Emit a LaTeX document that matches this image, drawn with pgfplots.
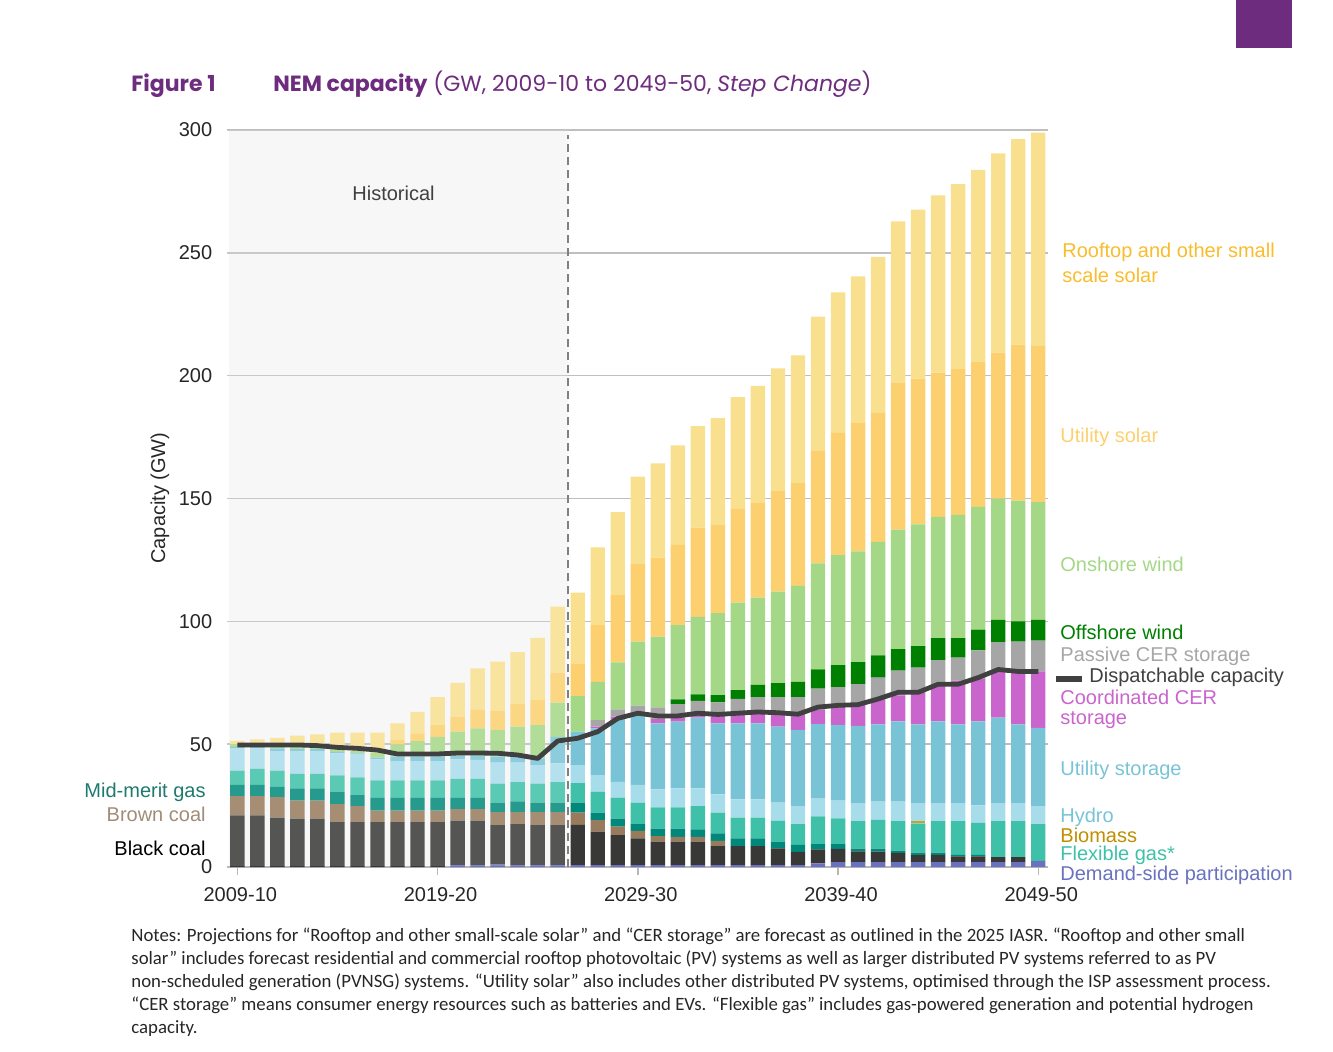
\documentclass[border=0pt]{standalone}
\usepackage{pgfplots}
\pgfplotsset{compat=1.18}
\usepackage{pgfplotstable}
\usepackage{fontspec}
\setmainfont{Liberation Sans}
\newfontfamily\titlefont{Poppins}
\newfontfamily\notefont{Carlito}

\definecolor{cDSP}{HTML}{6A72C0}
\definecolor{cBC}{HTML}{383836}
\definecolor{cBrC}{HTML}{977B5C}
\definecolor{cMM}{HTML}{00897A}
\definecolor{cFG}{HTML}{3FC1A9}
\definecolor{cBio}{HTML}{C9A227}
\definecolor{cHyd}{HTML}{A7DCEA}
\definecolor{cUS}{HTML}{78C4D6}
\definecolor{cCCER}{HTML}{C965CC}
\definecolor{cPCER}{HTML}{A6A6A6}
\definecolor{cOff}{HTML}{008000}
\definecolor{cOn}{HTML}{A4D886}
\definecolor{cUSol}{HTML}{FCD06E}
\definecolor{cRoof}{HTML}{F8E08F}
\definecolor{cLine}{HTML}{404040}
\definecolor{cPurple}{HTML}{6E2C7E}
\definecolor{histbg}{HTML}{F6F6F6}
\definecolor{cText}{HTML}{404040}
\definecolor{tRoof}{HTML}{F9BC2C}
\definecolor{tBio}{HTML}{BF8F00}
\definecolor{tMM}{HTML}{1E7A6E}
\definecolor{tBrC}{HTML}{A08C78}

\pgfplotstableread{
x dsp bc brc mm fg bio hyd us ccer pcer off on usol roof disp
0 0 21.0 7.9 4.5 5.8 0 9.1 0.5 0 0 0 1.2 0 1.3 49.7
1 0 21.0 7.9 4.5 6.5 0 8.4 0.5 0 0 0 1.5 0 1.7 49.7
2 0 20.1 8.3 4.2 6.6 0 8.0 1.1 0 0 0 1.9 0 2.4 49.7
3 0 19.7 7.3 5.0 5.9 0 9.3 0.8 0 0 0 2.0 0 3.5 49.7
4 0 19.7 7.3 5.0 5.9 0 9.3 0.8 0 0 0 1.8 0 4.2 49.4
5 0 18.3 7.3 5.1 6.6 0 9.0 0.6 0 0 0 1.6 0 6.2 48.7
6 0 18.3 6.5 4.5 7.2 0 9.4 0.4 0 0 0 0.9 0 7.5 48.3
7 0 18.3 4.6 5.2 7.2 0 8.5 0.7 0 0 0 2.0 0 8.2 47.6
8 0 18.3 4.6 5.2 7.2 0 7.8 1.8 0 0 0 5.0 1.8 6.8 46.0
9 0 18.3 4.6 5.2 7.2 0 7.8 1.8 0 0 0 6.3 3.2 8.7 46.0
10 0 18.3 4.6 5.2 7.2 0 7.8 1.8 0 0 0 8.1 4.8 11.3 46.0
11 0.8 18.1 4.7 4.5 7.8 0 7.9 1.4 0 0 0 9.9 6.1 13.8 46.4
12 0.8 18.1 4.7 4.5 7.8 0 7.7 1.6 0 0 0 11.2 7.8 16.7 46.4
13 1.0 16.0 5.3 3.9 7.7 0 8.6 2.4 0 0 0 10.9 7.8 20.0 46.3
14 0.8 16.7 4.8 4.4 7.9 0 7.9 2.4 0 0 0 12.2 9.2 21.2 45.6
15 0.8 16.2 5.3 3.9 7.7 0 7.6 2.7 0 0 0 13.6 10.2 25.3 44.2
16 0.8 16.2 5.3 3.9 8.4 0 7.6 10.8 0 0 0 13.9 12.2 26.9 51.3
17 0.8 16.3 5.0 4.1 7.9 0 7.4 13.6 0 0 0 14.5 13.3 28.8 52.4
18 0.8 13.6 4.7 3.0 8.6 0 6.7 19.0 0.7 2.7 0 15.6 23.1 31.6 55.1
19 0.8 12.2 3.4 3.3 8.5 0 6.5 25.5 1.0 3.0 0 19.1 27.4 33.8 60.5
20 0.8 10.9 3.0 2.8 8.7 0 7.2 28.6 0.6 3.1 0 26.0 31.6 35.6 62.6
21 0.8 9.5 2.3 3.0 8.7 0 7.3 26.9 1.7 4.8 0 28.8 32.1 38.4 61.5
22 0.8 9.5 2.0 3.3 8.7 0 7.7 27.2 1.7 5.4 1.9 30.3 32.6 40.5 61.5
23 0.8 9.5 2.0 3.0 9.5 0 7.2 28.8 1.1 5.7 2.7 31.5 36.3 41.4 62.6
24 0.8 7.7 2.1 3.1 8.4 0 7.5 28.9 3.0 5.5 3.0 33.3 35.9 43.5 62.1
25 0.8 7.7 0 3.2 8.4 0 7.4 31.0 3.4 6.5 3.6 35.6 38.4 45.3 62.6
26 0.8 7.7 0 3.2 8.4 0 7.4 31.0 3.8 6.8 5.0 35.5 38.8 47.4 63.1
27 0.8 6.8 0 2.7 8.6 0 7.3 30.9 4.8 7.2 5.7 37.3 40.9 50.0 62.8
28 0.8 5.4 0 2.8 8.5 0 7.3 31.0 6.1 7.2 6.3 39.0 41.9 52.0 62.2
29 1.5 5.7 0 2.1 11.3 0 7.2 30.4 5.7 8.7 7.8 43.2 46.0 54.4 65.1
30 2.0 5.4 0 1.9 10.5 0 7.2 30.9 7.5 7.8 9.0 44.8 49.7 57.2 65.8
31 2.0 4.4 0 1.1 11.2 0 7.3 31.4 9.0 8.0 9.0 45.1 52.2 59.7 66.1
32 2.0 4.3 0 1.2 11.7 0 7.4 31.5 9.8 9.2 9.0 46.2 52.6 63.5 68.4
33 2.0 3.7 0 1.0 12.0 0 7.9 32.7 10.6 10.0 8.8 48.6 60.0 65.5 71.1
34 2.0 2.8 0 1.1 11.9 0.9 7.3 32.1 12.8 10.3 8.7 49.6 59.3 68.8 71.1
35 2.0 2.9 0 1.0 12.8 0 7.3 33.3 15.1 9.8 9.0 49.3 58.7 72.2 74.4
36 2.0 2.3 0 0.6 13.8 0 7.3 32.1 17.8 9.3 8.0 50.1 59.4 75.3 74.4
37 2.0 2.3 0 0.6 13.1 0 7.1 34.2 17.3 11.6 8.4 50.0 58.9 78.3 77.1
38 2.0 2.0 0 0 14.7 0 7.3 34.8 19.6 11.1 9.1 49.3 59.5 81.1 80.4
39 2.0 2.0 0 0 14.7 0 7.3 32.1 21.5 12.1 8.3 49.1 63.5 83.7 79.6
40 2.5 0 0 0 15.0 0 7.3 31.8 23.0 12.5 8.5 47.9 63.8 86.6 79.6
}\data

\pgfplotsset{
  common/.style={
    at={(113.65pt,92pt)}, anchor=south west,
    scale only axis, width=410.5pt, height=368.5pt,
    xmin=-0.5, xmax=40.5, ymin=0, ymax=300,
  }
}

\begin{document}
\begin{tikzpicture}[x=0.5pt,y=0.5pt]
\path[use as bounding box] (0,0) rectangle (1333,1051);
\fill[cPurple] (1236,1003) rectangle (1292,1051);
\fill[histbg] (229,184) rectangle (567.7,921);

% title
\node[anchor=base west, inner sep=0, text=cPurple, font=\titlefont\fontsize{11}{13}\selectfont\bfseries] at (131,959) {Figure 1};
\node[anchor=base west, inner sep=0, text=cPurple, font=\titlefont\fontsize{11}{13}\selectfont] at (273,959) {\textbf{NEM capacity} (GW, 2009-10 to 2049-50, \textit{Step Change})};

\begin{axis}[common,
  ybar stacked, bar width=0.72,
  axis lines=left,
  x axis line style={-, draw=black!28, line width=0.7pt},
  y axis line style={draw=none},
  xtick={0,10,20,30,40},
  xticklabels={2009-10,2019-20,2029-30,2039-40,2049-50},
  ytick={0,50,...,300},
  tick align=outside, major tick length=4pt,
  xtick style={draw=black!28, line width=0.7pt},
  ytick style={draw=none},
  ymajorgrids, grid style={draw=black!25, line width=0.7pt},
  /pgf/number format/assume math mode=true,
  ticklabel style={font=\fontsize{10}{12}\selectfont, text=black!85},
  yticklabel style={xshift=0pt},
  xticklabel style={yshift=-2.5pt, xshift=1.5pt},
]
\addplot[fill=cDSP, draw=none] table[x=x,y=dsp]{\data};
\addplot[fill=cBC, draw=none] table[x=x,y=bc]{\data};
\addplot[fill=cBrC, draw=none] table[x=x,y=brc]{\data};
\addplot[fill=cMM, draw=none] table[x=x,y=mm]{\data};
\addplot[fill=cFG, draw=none] table[x=x,y=fg]{\data};
\addplot[fill=cBio, draw=none] table[x=x,y=bio]{\data};
\addplot[fill=cHyd, draw=none] table[x=x,y=hyd]{\data};
\addplot[fill=cUS, draw=none] table[x=x,y=us]{\data};
\addplot[fill=cCCER, draw=none] table[x=x,y=ccer]{\data};
\addplot[fill=cPCER, draw=none] table[x=x,y=pcer]{\data};
\addplot[fill=cOff, draw=none] table[x=x,y=off]{\data};
\addplot[fill=cOn, draw=none] table[x=x,y=on]{\data};
\addplot[fill=cUSol, draw=none] table[x=x,y=usol]{\data};
\addplot[fill=cRoof, draw=none] table[x=x,y=roof]{\data};
\end{axis}

\begin{axis}[common, hide axis, clip=false]
\fill[white, opacity=0.15] (axis cs:-0.5,0.3) rectangle (axis cs:16.5,300);
\addplot[draw=cLine, line width=2.4pt, line join=round, no markers] table[x=x,y=disp]{\data};
\draw[black!50, line width=1pt, dash pattern=on 4pt off 2.5pt] (axis cs:16.5,0) -- (axis cs:16.5,298);
\node[text=cText, font=\fontsize{10}{12}\selectfont] at (axis cs:7.8,274.3) {Historical};
\end{axis}

% y label
\node[rotate=90, text=black!85, font=\fontsize{10}{12}\selectfont] at (160,553) {Capacity (GW)};

% right labels
\begin{scope}[every node/.style={anchor=west, inner sep=0, font=\fontsize{10}{12}\selectfont}]
\node[text=tRoof] at (1062,799) {Rooftop and other small};
\node[text=tRoof] at (1062,776) {scale solar};
\node[text=cUSol] at (1060,614) {Utility solar};
\node[text=cOn] at (1060,487) {Onshore wind};
\node[text=cOff] at (1060,419) {Offshore wind};
\node[text=cPCER] at (1060,395) {Passive CER storage};
\node[text=cLine] at (1089,374) {Dispatchable capacity};
\node[text=cCCER] at (1060,354) {Coordinated CER};
\node[text=cCCER] at (1060,331) {storage};
\node[text=cUS] at (1060,281) {Utility storage};
\node[text=cUS] at (1060,234) {Hydro};
\node[text=tBio] at (1060,215.5) {Biomass};
\node[text=cFG] at (1060,195.5) {Flexible gas*};
\node[text=cDSP] at (1060,176) {Demand-side participation};
\end{scope}
\draw[cLine, line width=2.6pt] (1056,372) -- (1082,372);

\begin{scope}[every node/.style={anchor=east, inner sep=0, font=\fontsize{10}{12}\selectfont}]
\node[text=tMM] at (206,259) {Mid-merit gas};
\node[text=tBrC] at (206,237) {Brown coal};
\node[text=black] at (206,203) {Black coal};
\end{scope}

% notes
\begin{scope}[every node/.style={anchor=base west, inner sep=0, text=black!85, font=\notefont\fontsize{9.4}{11}\selectfont}]
\node at (131,110) {Notes: Projections for “Rooftop and other small-scale solar” and “CER storage” are forecast as outlined in the 2025 IASR. “Rooftop and other small};
\node at (131,87) {solar” includes forecast residential and commercial rooftop photovoltaic (PV) systems as well as larger distributed PV systems referred to as PV};
\node at (131,64) {non-scheduled generation (PVNSG) systems. “Utility solar” also includes other distributed PV systems, optimised through the ISP assessment process.};
\node at (131,41) {“CER storage” means consumer energy resources such as batteries and EVs. “Flexible gas” includes gas-powered generation and potential hydrogen};
\node at (131,18) {capacity.};
\end{scope}
\end{tikzpicture}
\end{document}
